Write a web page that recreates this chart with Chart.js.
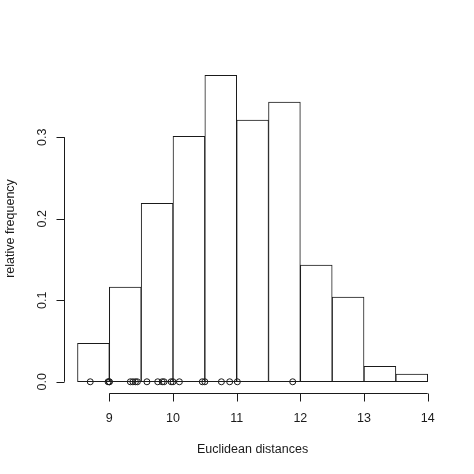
<!DOCTYPE html>
<html>
<head>
<meta charset="utf-8">
<script src="https://cdn.jsdelivr.net/npm/chart.js@4"></script>
<style>
html,body{margin:0;padding:0;background:#fff;}
canvas{display:block;}
</style>
</head>
<body>
<canvas id="c" width="474" height="474"></canvas>
<script>
// Histogram bins (left edges, width 0.5) and relative frequencies
const binStarts = [8.5, 9.0, 9.5, 10.0, 10.5, 11.0, 11.5, 12.0, 12.5, 13.0, 13.5];
const binWidth = 0.5;
const relFreq = [0.047, 0.116, 0.219, 0.301, 0.376, 0.321, 0.343, 0.143, 0.104, 0.019, 0.0095];
// Observed points drawn along the baseline
const obsPoints = [8.70, 8.98, 9.00, 9.00, 9.33, 9.37, 9.41, 9.44, 9.59, 9.76, 9.83, 9.86,
                   9.97, 10.00, 10.10, 10.46, 10.50, 10.76, 10.89, 11.01, 11.88];
const xTicks = [9, 10, 11, 12, 13, 14];
const yTicks = [0.0, 0.1, 0.2, 0.3];
const xTitle = 'Euclidean distances';
const yTitle = 'relative frequency';

const FONT = '12.5px "Liberation Sans", Arial, Helvetica, sans-serif';
const INK = '#1a1a1a';

const axesPlugin = {
  id: 'rAxes',
  afterDraw(chart) {
    const ctx = chart.ctx;
    const xs = chart.scales.x, ys = chart.scales.y;
    const area = chart.chartArea;
    ctx.save();
    ctx.strokeStyle = INK;
    ctx.fillStyle = INK;
    ctx.lineWidth = 1;
    ctx.font = FONT;
    // x axis
    const yb = Math.round(area.bottom) - 0.5;
    ctx.beginPath();
    ctx.moveTo(xs.getPixelForValue(xTicks[0]), yb);
    ctx.lineTo(xs.getPixelForValue(xTicks[xTicks.length - 1]), yb);
    xTicks.forEach(t => {
      const px = Math.round(xs.getPixelForValue(t)) + 0.5;
      ctx.moveTo(px, yb);
      ctx.lineTo(px, yb + 8);
    });
    ctx.stroke();
    ctx.textAlign = 'center';
    ctx.textBaseline = 'middle';
    xTicks.forEach(t => {
      ctx.fillText(String(t), xs.getPixelForValue(t), yb + 25);
    });
    ctx.fillText(xTitle, (area.left + area.right) / 2, yb + 56);
    // y axis
    const xl = Math.round(area.left) + 0.5;
    ctx.beginPath();
    ctx.moveTo(xl, ys.getPixelForValue(yTicks[0]));
    ctx.lineTo(xl, ys.getPixelForValue(yTicks[yTicks.length - 1]));
    yTicks.forEach(t => {
      const py = Math.round(ys.getPixelForValue(t)) + 0.5;
      ctx.moveTo(xl, py);
      ctx.lineTo(xl - 8, py);
    });
    ctx.stroke();
    yTicks.forEach(t => {
      ctx.save();
      ctx.translate(xl - 22, ys.getPixelForValue(t));
      ctx.rotate(-Math.PI / 2);
      ctx.fillText(t.toFixed(1), 0, 0);
      ctx.restore();
    });
    ctx.save();
    ctx.translate(11, (area.top + area.bottom) / 2);
    ctx.rotate(-Math.PI / 2);
    ctx.fillText(yTitle, 0, 0);
    ctx.restore();
    ctx.restore();
  }
};

new Chart(document.getElementById('c'), {
  type: 'bar',
  data: {
    datasets: [
      {
        type: 'bar',
        data: binStarts.map((b, i) => ({ x: b + binWidth / 2, y: relFreq[i] })),
        backgroundColor: '#ffffff',
        borderColor: INK,
        borderWidth: 1,
        borderSkipped: false,
        barPercentage: 1,
        categoryPercentage: 1,
        order: 2
      },
      {
        type: 'scatter',
        data: obsPoints.map(v => ({ x: v, y: 0 })),
        pointStyle: 'circle',
        pointRadius: 3,
        pointBorderWidth: 1,
        pointBackgroundColor: 'rgba(0,0,0,0)',
        pointBorderColor: INK,
        showLine: false,
        order: 1
      }
    ]
  },
  options: {
    responsive: false,
    animation: false,
    devicePixelRatio: 1,
    layout: { padding: { left: 63.5, right: 32.3, top: 63, bottom: 80 } },
    plugins: { legend: { display: false }, tooltip: { enabled: false } },
    scales: {
      x: { type: 'linear', min: 8.28, max: 14.22, display: false, offset: false },
      y: { type: 'linear', min: -0.015, max: 0.391, display: false }
    }
  },
  plugins: [axesPlugin]
});
</script>
</body>
</html>
